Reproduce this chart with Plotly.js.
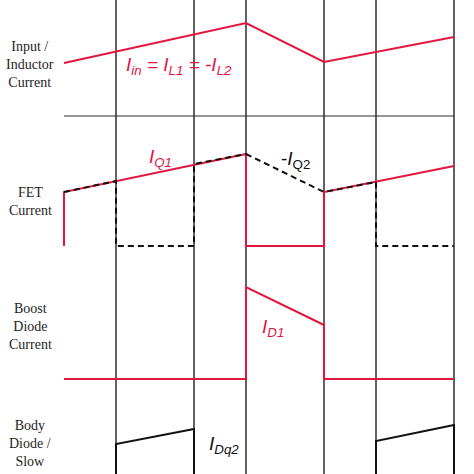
<!DOCTYPE html>
<html>
<head>
<meta charset="utf-8">
<script src="https://cdn.plot.ly/plotly-3.0.1.min.js"></script>
<style>
  html, body { margin: 0; padding: 0; background: #fff; }
  #chart { width: 474px; height: 474px; }
</style>
</head>
<body>
<div id="chart"></div>
<script>
// time in switching periods, switch edges
const edgeTimes = [0.4, 1.0, 1.4, 2.0, 2.4, 3.0];

// input / inductor current
const inTime = [0, 1.4, 2.0, 3.0];
const inCur  = [41.1, 45.1, 41.2, 43.7];
const sepLevel = 35.8;

// FET current I_Q1 (red) and -I_Q2 (dashed)
const q1Time = [0, 0, 1.4, 1.4, 2.0, 2.0, 3.0];
const q1Cur  = [22.8, 28.2, 32.0, 22.8, 22.8, 28.2, 30.8];
const q2Time = [0, 0.4, 0.4, 1.0, 1.0, 1.4, null, 1.4, 2.0, 2.4, 2.4, 3.0];
const q2Cur  = [28.2, 29.3, 22.8, 22.8, 31.0, 32.0, null, 32.0, 28.2, 29.2, 22.8, 22.8];

// boost diode current
const d1Time = [0, 1.4, 1.4, 2.0, 2.0, 3.0];
const d1Cur  = [9.5, 9.5, 18.7, 14.9, 9.5, 9.5];

// body diode current
const dqTime = [0.4, 0.4, 1.0, 1.0, null, 2.4, 2.4, 3.0, 3.0];
const dqCur  = [-0.5, 3.0, 4.5, -0.5, null, -0.5, 3.3, 4.9, -0.5];

const red = '#e2163f';
const ink = '#2e2e2e';

const traces = [
  { x: inTime, y: inCur, mode: 'lines', line: { color: red, width: 2 } },
  { x: q1Time, y: q1Cur, mode: 'lines', line: { color: red, width: 2 } },
  { x: q2Time, y: q2Cur, mode: 'lines', line: { color: '#111', width: 2, dash: '6px,4px' } },
  { x: d1Time, y: d1Cur, mode: 'lines', line: { color: red, width: 2 } },
  { x: dqTime, y: dqCur, mode: 'lines', line: { color: '#111', width: 2 } }
].map(t => Object.assign(t, { type: 'scatter', hoverinfo: 'none', cliponaxis: false }));

// grid lines
const shapes = edgeTimes.map(t => ({
  type: 'line', xref: 'x', yref: 'paper', x0: t, x1: t, y0: 0, y1: 1,
  line: { color: ink, width: 1.5 }, layer: 'below'
}));
shapes.push({
  type: 'line', xref: 'x', yref: 'y', x0: 0, x1: 3.0, y0: sepLevel, y1: sepLevel,
  line: { color: ink, width: 1.2 }, layer: 'below'
});

const serif = { family: 'Liberation Serif, Times New Roman, serif', size: 14, color: '#1e1e1e' };
const sans = { family: 'Liberation Sans, Arial, sans-serif', size: 19, color: red };

function px(x, y) { return { xref: 'paper', yref: 'paper', x: x / 474, y: 1 - y / 474 }; }

const annotations = [
  Object.assign(px(30, 64), { text: 'Input /<br>Inductor<br>Current', font: serif }),
  Object.assign(px(30, 201), { text: 'FET<br>Current', font: serif }),
  Object.assign(px(30, 326), { text: 'Boost<br>Diode<br>Current', font: serif }),
  Object.assign(px(30, 453), { text: 'Body<br>Diode /<br>Slow<br>Diode', font: serif }),
  Object.assign(px(179, 66), { text: '<i>I<sub>in</sub> = I<sub>L1</sub> = -I<sub>L2</sub></i>', font: sans }),
  Object.assign(px(160, 158), { text: '<i>I<sub>Q1</sub></i>', font: sans }),
  Object.assign(px(295, 160), { text: '-<i>I</i><sub>Q2</sub>', font: Object.assign({}, sans, { color: '#111' }) }),
  Object.assign(px(273, 328), { text: '<i>I<sub>D1</sub></i>', font: sans }),
  Object.assign(px(224, 445), { text: '<i>I<sub>Dq2</sub></i>', font: Object.assign({}, sans, { color: '#111' }) })
].map(a => Object.assign(a, { showarrow: false, xanchor: 'center', yanchor: 'middle' }));

const layout = {
  width: 474, height: 474,
  margin: { l: 0, r: 0, t: 0, b: 0 },
  paper_bgcolor: '#fff', plot_bgcolor: '#fff',
  showlegend: false,
  xaxis: { visible: false, range: [-64 / 130, 410 / 130] },
  yaxis: { visible: false, range: [0, 47.4] },
  shapes: shapes,
  annotations: annotations
};

Plotly.newPlot('chart', traces, layout, { staticPlot: true });
</script>
</body>
</html>
